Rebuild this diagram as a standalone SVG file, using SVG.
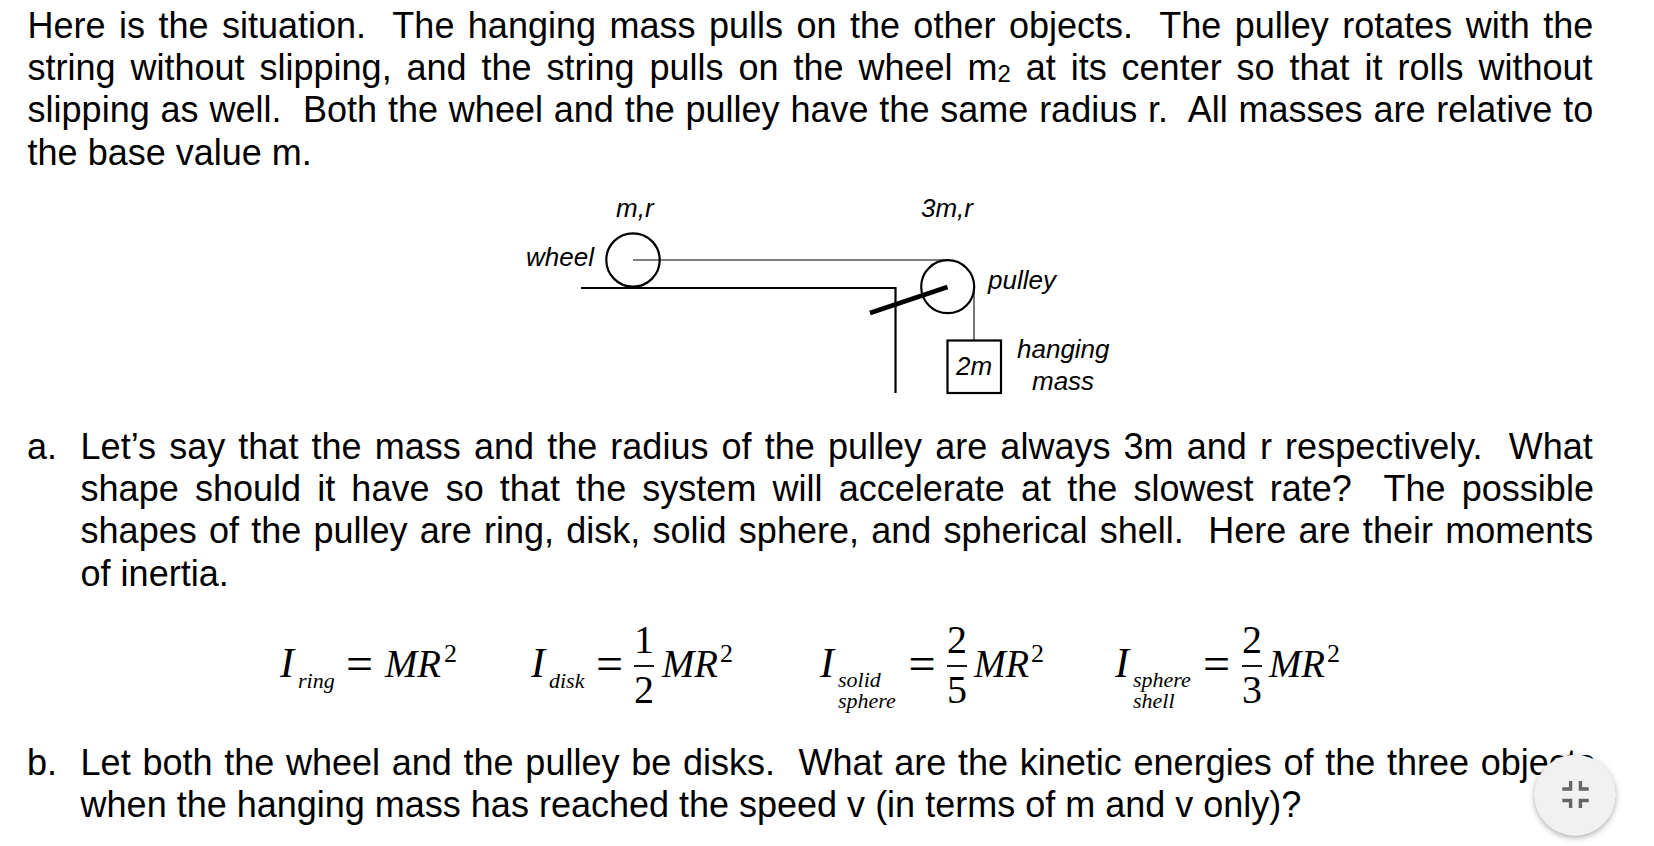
<svg xmlns="http://www.w3.org/2000/svg" width="1654" height="846" viewBox="0 0 1654 846">
<style>
text{white-space:pre;fill:#000}
.b{font:36px "Liberation Sans",Arial,sans-serif}
.d{font:italic 26px "Liberation Sans",Arial,sans-serif}
.m{font:40px "Liberation Serif","Times New Roman",serif}
.q{font:48px "Liberation Serif","Times New Roman",serif}
.i{font:italic 42px "Liberation Serif","Times New Roman",serif}
.r{font:italic 40px "Liberation Serif","Times New Roman",serif}
.s{font:italic 22px "Liberation Serif","Times New Roman",serif}
.e{font:26px "Liberation Serif","Times New Roman",serif}
.o{fill:none;stroke:#000;stroke-width:2.2}
.t{fill:none;stroke:#555;stroke-width:1.6}
.bar{stroke:#000;stroke-width:1.8}
</style>
<defs><filter id="sh" x="-30%" y="-30%" width="160%" height="170%"><feDropShadow dx="0" dy="2" stdDeviation="3" flood-color="#000" flood-opacity="0.35"/></filter></defs>
<rect width="1654" height="846" fill="#fff"/>
<g id="intro" class="b">
<text x="27.6" y="38" word-spacing="3.45">Here is the situation.  The hanging mass pulls on the other objects.  The pulley rotates with the</text>
<text x="27.6" y="80" word-spacing="4.93">string without slipping, and the string pulls on the wheel m<tspan font-size="24" dy="2">2</tspan><tspan dy="-2"> at its center so that it rolls without</tspan></text>
<text x="27.6" y="122" word-spacing="0.84">slipping as well.  Both the wheel and the pulley have the same radius r.  All masses are relative to</text>
<text x="27.6" y="164.5">the base value m.</text>
</g>
<g id="connectors">
<path class="t" d="M633 260H947.5"/>
<path class="t" d="M974 287V340"/>
<path class="o" d="M581 288H895.5V393"/>
</g>
<g id="wheel"><circle class="o" cx="633" cy="260" r="26.7"/>
<text class="d" x="526" y="266">wheel</text><text class="d" x="616" y="217">m,r</text></g>
<g id="pulley"><circle class="o" cx="947.7" cy="286.7" r="26.5"/>
<path d="M870 313L947.5 287" fill="none" stroke="#000" stroke-width="4.5"/>
<text class="d" x="921" y="217">3m,r</text><text class="d" x="988" y="289">pulley</text></g>
<g id="mass"><rect class="o" x="947.5" y="340.5" width="53.5" height="52.5"/>
<text class="d" x="956" y="375">2m</text>
<text class="d" x="1017" y="357.5">hanging</text><text class="d" x="1032" y="390">mass</text></g>
<g id="part-a" class="b">
<text x="27" y="459.3">a.</text>
<text x="80.6" y="459.3" word-spacing="3.16">Let’s say that the mass and the radius of the pulley are always 3m and r respectively.  What</text>
<text x="80.6" y="501.3" word-spacing="6.2">shape should it have so that the system will accelerate at the slowest rate?  The possible</text>
<text x="80.6" y="543.3" word-spacing="2.24">shapes of the pulley are ring, disk, solid sphere, and spherical shell.  Here are their moments</text>
<text x="80.6" y="585.5">of inertia.</text>
</g>
<g id="eq-ring">
<text class="i" x="280" y="677">I</text><text class="s" x="298" y="688">ring</text>
<text class="q" x="346" y="680">=</text><text class="r" x="385" y="677" textLength="56" lengthAdjust="spacingAndGlyphs">MR</text><text class="e" x="444" y="662">2</text>
</g>
<g id="eq-disk">
<text class="i" x="531" y="677">I</text><text class="s" x="549" y="688">disk</text>
<text class="q" x="596" y="680">=</text><text class="m" x="634" y="653">1</text><line class="bar" x1="634" y1="666" x2="654" y2="666"/><text class="m" x="634" y="703">2</text>
<text class="r" x="662" y="677" textLength="56" lengthAdjust="spacingAndGlyphs">MR</text><text class="e" x="720" y="662">2</text>
</g>
<g id="eq-solid">
<text class="i" x="820" y="677">I</text><text class="s"><tspan x="838" y="687">solid</tspan><tspan x="838" y="708">sphere</tspan></text>
<text class="q" x="908.5" y="680">=</text><text class="m" x="947" y="653">2</text><line class="bar" x1="947" y1="666" x2="967" y2="666"/><text class="m" x="947" y="703">5</text>
<text class="r" x="974" y="677" textLength="55" lengthAdjust="spacingAndGlyphs">MR</text><text class="e" x="1031" y="662">2</text>
</g>
<g id="eq-shell">
<text class="i" x="1115" y="677">I</text><text class="s"><tspan x="1133" y="687">sphere</tspan><tspan x="1133" y="708">shell</tspan></text>
<text class="q" x="1203" y="680">=</text><text class="m" x="1242" y="653">2</text><line class="bar" x1="1242" y1="666" x2="1262" y2="666"/><text class="m" x="1242" y="703">3</text>
<text class="r" x="1269" y="677" textLength="56" lengthAdjust="spacingAndGlyphs">MR</text><text class="e" x="1327" y="662">2</text>
</g>
<g id="part-b" class="b">
<text x="27" y="774.5">b.</text>
<text x="80.6" y="774.5" word-spacing="1.74">Let both the wheel and the pulley be disks.  What are the kinetic energies of the three objects</text>
<text x="80.6" y="816.5">when the hanging mass has reached the speed v (in terms of m and v only)?</text>
</g>
<g id="button">
<circle cx="1575" cy="795" r="40.3" fill="#f1f1f1" filter="url(#sh)"/>
<path fill="none" stroke="#666" stroke-width="3.4" d="M1562.3 789H1570.6V781M1588.7 789H1580.4V781M1562.3 800.5H1570.6V808M1588.7 800.5H1580.4V808"/>
</g>
</svg>
